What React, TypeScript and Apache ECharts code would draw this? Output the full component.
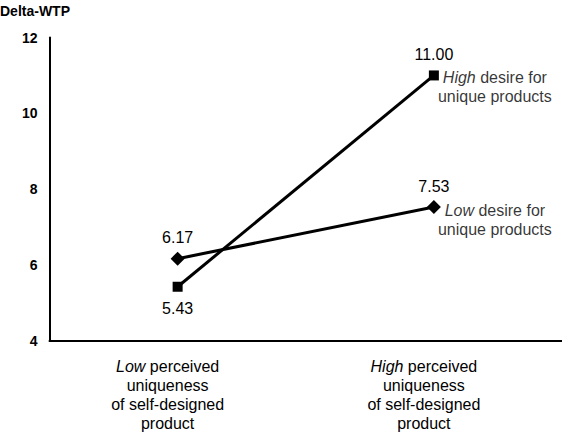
import React, { useEffect, useRef } from "react";
import * as echarts from "echarts";

const categories = [
  "{i|Low} perceived\nuniqueness\nof self-designed\nproduct",
  "{i|High} perceived\nuniqueness\nof self-designed\nproduct",
];
const highDesire = [5.43, 11.0];
const lowDesire = [6.17, 7.53];
const highName = "{i|High} desire for\nunique products";
const lowName = "{i|Low} desire for\nunique products";
const yTicks = { min: 4, max: 12, interval: 2 };
const axisTitle = "Delta-WTP";

const FONT = "'Liberation Sans', Arial, Helvetica, sans-serif";
const FS = 16;

export default function App() {
  const ref = useRef<HTMLDivElement>(null);
  useEffect(() => {
    if (!ref.current) return;
    const chart = echarts.init(ref.current, null, { renderer: "svg" });
    const labelBase = {
      color: "#000",
      fontSize: FS,
      fontFamily: FONT,
    };
    const italic = { fontStyle: "italic", fontSize: FS, fontFamily: FONT, color: "#000", lineHeight: 19 };
    const nameLabel = (text: string, dy: number) => ({
      show: true,
      position: "inside",
      align: "center",
      verticalAlign: "top",
      offset: [61, dy],
      formatter: text,
      ...labelBase,
      lineHeight: 19,
      rich: { i: italic },
    });
    chart.setOption({
      animation: false,
      textStyle: { fontFamily: FONT },
      graphic: [
        {
          type: "text",
          left: 0,
          top: 4,
          style: {
            text: axisTitle,
            font: `bold 14px ${FONT}`,
            fill: "#000",
          },
        },
      ],
      grid: { left: 49.5, right: 0, top: 37.5, bottom: 92, containLabel: false },
      xAxis: {
        type: "category",
        data: categories,
        boundaryGap: true,
        axisLine: { lineStyle: { color: "#000", width: 2 } },
        axisTick: { show: false },
        axisLabel: {
          margin: 16,
          color: "#000",
          fontSize: FS,
          lineHeight: 19,
          fontFamily: FONT,
          align: "center",
          padding: [0, 20, 0, 0],
          formatter: (v: string) => v,
          rich: { i: italic },
        },
      },
      yAxis: {
        type: "value",
        min: yTicks.min,
        max: yTicks.max,
        interval: yTicks.interval,
        splitLine: { show: false },
        axisTick: { show: false },
        axisLine: { show: true, lineStyle: { color: "#000", width: 2 } },
        axisLabel: {
          margin: 12,
          color: "#000",
          fontSize: 14,
          fontWeight: "bold",
          fontFamily: FONT,
        },
      },
      series: [
        {
          type: "line",
          symbol: "rect",
          symbolSize: 10,
          lineStyle: { color: "#000", width: 3 },
          itemStyle: { color: "#000" },
          label: {
            show: true,
            position: "top",
            distance: 8,
            formatter: (p: any) => p.value.toFixed(2),
            ...labelBase,
          },
          data: highDesire.map((v, i) => ({
            value: v,
            label: i === 0 ? { position: "bottom", distance: 9 } : {},
          })),
        },
        {
          type: "line",
          symbol: "diamond",
          symbolSize: 14,
          lineStyle: { color: "#000", width: 3 },
          itemStyle: { color: "#000" },
          label: {
            show: true,
            position: "top",
            distance: 6,
            formatter: (p: any) => p.value.toFixed(2),
            ...labelBase,
          },
          data: lowDesire,
        },
        {
          type: "scatter",
          symbolSize: 0,
          silent: true,
          data: [null, highDesire[1]],
          label: nameLabel(highName, -7),
        },
        {
          type: "scatter",
          symbolSize: 0,
          silent: true,
          data: [null, lowDesire[1]],
          label: nameLabel(lowName, -6),
        },
      ],
    });
    return () => chart.dispose();
  }, []);
  return (
    <div
      ref={ref}
      style={{ position: "fixed", left: 0, top: 0, width: 562, height: 433, background: "#fff" }}
    />
  );
}
